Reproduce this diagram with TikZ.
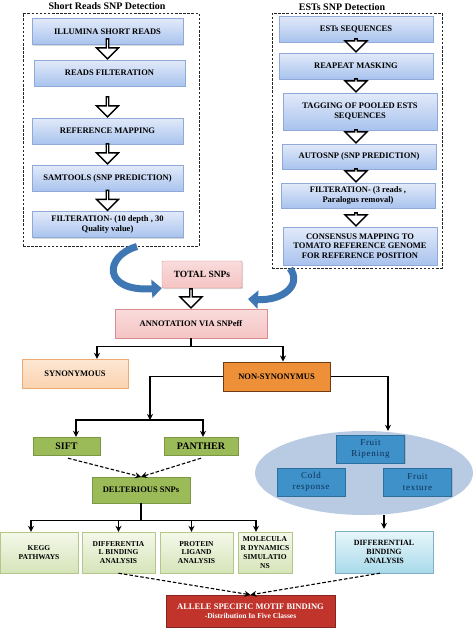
\documentclass[tikz,border=0pt]{standalone}
\usepackage{fontspec}
\setmainfont{Liberation Serif}
\newfontfamily\spaced[LetterSpace=8]{Liberation Serif}
\usetikzlibrary{shapes.geometric,shapes.arrows,arrows.meta,calc,shadows}
\definecolor{bluetop}{HTML}{E2EAF9}\definecolor{bluebot}{HTML}{A9C3EE}\definecolor{blueline}{HTML}{8FA9D8}
\definecolor{pinkfill}{HTML}{F5C4C4}\definecolor{pinkline}{HTML}{D88C8C}
\definecolor{synfill}{HTML}{FBD3B0}\definecolor{synline}{HTML}{EDAA72}
\definecolor{nonfill}{HTML}{EE9038}\definecolor{nonline}{HTML}{6E3B12}
\definecolor{greenfill}{HTML}{9BBB59}\definecolor{greenline}{HTML}{7C9844}
\definecolor{limetop}{HTML}{F4F8EA}\definecolor{limebot}{HTML}{D6E4B9}\definecolor{limeline}{HTML}{B3C78A}
\definecolor{fruitfill}{HTML}{3E92C9}\definecolor{fruitline}{HTML}{2C6E9C}\definecolor{fruittext}{HTML}{0F2D55}
\definecolor{ellfill}{HTML}{B9CBE3}
\definecolor{cyantop}{HTML}{E8F6FB}\definecolor{cyanbot}{HTML}{A8DAEA}\definecolor{cyanline}{HTML}{7FB0C6}
\definecolor{redfill}{HTML}{C0342C}\definecolor{swoosh}{HTML}{3F77B4}
\begin{document}
\begin{tikzpicture}[x=1pt,y=-1pt,every node/.style={font=\fontsize{8.5}{9.5}\selectfont\bfseries,align=center,inner sep=1pt},
shadowed/.style={drop shadow={opacity=.3,shadow xshift=1pt,shadow yshift=-1.2pt}},
panel/.style={draw=black!85,dash pattern=on 2.5pt off 1.6pt,line width=1pt},
bluebox/.style={draw=blueline,top color=bluetop,bottom color=bluebot,minimum height=26,shadowed},
hollow/.style={single arrow,draw,line width=1.3pt,fill=white,shape border rotate=270,minimum height=20,minimum width=22,single arrow head extend=5,inner sep=0,anchor=tip,
  path picture={\fill (path picture bounding box.north west) rectangle ([yshift=-4pt]path picture bounding box.north east);}},
pinkbox/.style={draw=pinkline,top color=pinkfill!60!white,bottom color=pinkfill,shadowed},
greenbox/.style={draw=greenline,fill=greenfill,shadowed},
limebox/.style={draw=limeline,top color=limetop,bottom color=limebot,minimum height=41,shadowed,font=\fontsize{7.5}{8.7}\selectfont\bfseries},
fruit/.style={draw=fruitline,fill=fruitfill,text=fruittext,font=\fontsize{9}{11}\spaced,minimum width=68,minimum height=28,shadowed},
arr/.style={line width=1.4pt,-{Stealth[length=6pt,width=6pt]}},
darr/.style={line width=1.1pt,dash pattern=on 3.5pt off 2pt,-{Stealth[length=6pt,width=6pt]}},
curvy/.style={draw=swoosh,line width=7pt,-{Triangle[length=10pt,width=18pt]}}]
\useasboundingbox (0,0) rectangle (474,632);
% short reads panel
\node[panel,minimum width=176,minimum height=233] (lpan) at (111,129.5) {};
\node[font=\fontsize{10}{12}\selectfont\bfseries] (ltitle) at (107,6) {Short Reads SNP Detection};
\foreach \n/\x/\y/\t in {s1/107.5/31.5/{ILLUMINA SHORT READS},s2/109.5/73/{READS FILTERATION},s3/107.5/131/{REFERENCE MAPPING},s4/107.5/178/{SAMTOOLS (SNP PREDICTION)},s5/107.5/224.5/{FILTERATION- (10 depth , 30\\Quality value)}}{\node[bluebox,minimum width=151] (\n) at (\x,\y) {\t};}
\foreach \a/\b in {s1/s2,s2/s3,s3/s4,s4/s5}{\node[hollow] (h\b) at (\b.north -| s1) {};}
% ESTs panel
\node[panel,minimum width=170,minimum height=255] (rpan) at (357,140.5) {};
\node[font=\fontsize{10}{12}\selectfont\bfseries] (rtitle) at (342,7) {ESTs SNP Detection};
\foreach \n/\x/\y/\h/\t in {e1/356/29/26/{ESTs SEQUENCES},e2/356/66/26/{REAPEAT MASKING},e3/360/111.5/37/{TAGGING OF POOLED ESTS\\SEQUENCES},e4/359/156.5/25/{AUTOSNP (SNP PREDICTION)},e5/358/195.5/25/{FILTERATION- (3 reads ,\\Paralogus removal)},e6/360/246/38/{CONSENSUS MAPPING TO\\TOMATO REFERENCE GENOME\\FOR REFERENCE POSITION}}{\node[bluebox,minimum width=154,minimum height=\h] (\n) at (\x,\y) {\t};}
\foreach \a/\b in {e1/e2,e2/e3,e3/e4,e4/e5,e5/e6}{\node[hollow,minimum height=13] (h\b) at (\b.north -| e1) {};}
% merging
\node[pinkbox,font=\fontsize{9.5}{11}\selectfont\bfseries,minimum width=80,minimum height=27,rounded corners=1pt] (tot) at (202,274.5) {TOTAL SNPs};
\node[pinkbox,minimum width=152,minimum height=29] (ann) at (191,323.5) {ANNOTATION VIA SNPeff};
\node[hollow,minimum height=19] (hann) at (ann.north) {};
\coordinate (tin) at (248,299);
\draw[curvy] ([xshift=26]lpan.south) .. controls (104,256) and (102,292) .. (tot.south west);
\draw[curvy] ([xshift=-67]rpan.south) .. controls (302,284) and (284,301) .. (tin);
\node[draw=synline,top color=synfill!55!white,bottom color=synfill,shadowed,minimum width=106,minimum height=29] (syn) at (75,373.5) {SYNONYMOUS};
\node[draw=nonline,fill=nonfill,line width=1pt,shadowed,minimum width=107,minimum height=29] (non) at (276.5,376.5) {NON-SYNONYMUS};
\draw[line width=1.4pt] (ann.south) -- ++(0,8) coordinate (j1);
\draw[arr] (j1) -| ([xshift=22]syn.north);\draw[arr] (j1) -| ([xshift=6.5]non.north);
% non-synonymous branches
\node[greenbox,font=\fontsize{10}{12}\selectfont\bfseries,minimum width=67,minimum height=18] (sift) at (66.5,446) {SIFT};
\node[greenbox,font=\fontsize{10}{12}\selectfont\bfseries,minimum width=74,minimum height=18] (pan) at (201,446) {PANTHER};
\node[greenbox,minimum width=98,minimum height=26] (del) at (141,490) {DELTERIOUS SNPs};
\coordinate (j2) at (150,420);
\draw[arr] (non.west) -| (j2);
\draw[arr] (j2) -| ([xshift=9.5]sift.north);\draw[arr] (j2) -| ([xshift=2]pan.north);
\draw[darr] ([xshift=1.5,yshift=-3]sift.south) -- (del.north);\draw[darr] ([yshift=-3]pan.south) -- (del.north);
\node[ellipse,fill=ellfill,minimum width=218,minimum height=84,inner sep=0] (ell) at (364,473) {};
\node[fruit] (rip) at (370.5,449) {Fruit\\Ripening};\node[fruit] (cold) at (311,482) {Cold\\response};\node[fruit] (tex) at (417.5,482) {Fruit\\texture};
\draw[arr] (non.east) -| ([xshift=24]ell.north);
% analyses
\foreach \n/\x/\w/\t in {kegg/39/78/{KEGG\\PATHWAYS},dba/118.5/73/{DIFFERENTIA\\L BINDING\\ANALYSIS},pla/196.5/73/{PROTEIN\\LIGAND\\ANALYSIS},mds/265/54/{MOLECULA\\R DYNAMICS\\SIMULATIO\\NS}}{\node[limebox,minimum width=\w] (\n) at (\x,552.5) {\t};}
\draw[line width=1.4pt] (del.south) -- ++(0,17) coordinate (j3);
\foreach \n/\s in {kegg/-8,dba/0,pla/-5,mds/-9}{\draw[arr] (j3) -| ([xshift=\s]\n.north);}
\node[draw=cyanline,top color=cyantop,bottom color=cyanbot,shadowed,minimum width=98,minimum height=42,font=\fontsize{8}{9}\selectfont\bfseries] (dif) at (384,552) {DIFFERENTIAL\\BINDING\\ANALYSIS};
\draw[arr,shorten >=2pt] (ell.south -| dif) -- (dif.north);
\node[draw=redfill!70!black,fill=redfill,text=white,shadowed,minimum width=169,minimum height=32] (ase) at (250.5,611) {ALLELE SPECIFIC MOTIF BINDING\\{\fontsize{7.5}{9}\selectfont -Distribution In Five Classes}};
\draw[darr] (dba.south) -- (ase.north);\draw[darr] ([xshift=-4]dif.south) -- (ase.north);
\end{tikzpicture}
\end{document}
